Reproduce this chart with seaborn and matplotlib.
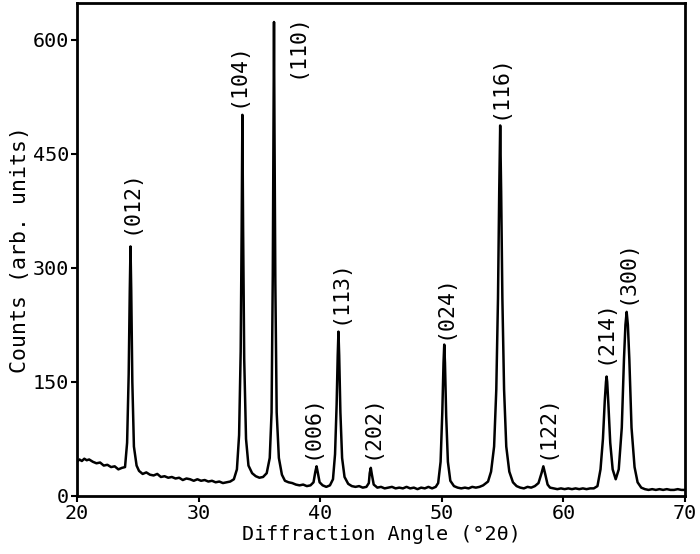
import matplotlib
matplotlib.use("Agg")
import matplotlib.pyplot as plt
import seaborn as sns
import pandas as pd

# ---- data (2-theta in degrees, counts in arb. units) ----
two_theta = [
    20.0, 20.2, 20.4, 20.6, 20.8, 21.0, 21.3, 21.6, 21.9, 22.2, 22.5, 22.8, 23.1, 23.4, 23.7, 23.95,
    24.12, 24.25, 24.34, 24.4, 24.46, 24.55, 24.68, 24.9,
    25.1, 25.4, 25.7, 26.0, 26.3, 26.6, 26.9, 27.2, 27.5, 27.8, 28.1, 28.4, 28.7, 29.0, 29.3, 29.6,
    29.9, 30.2, 30.5, 30.8, 31.1, 31.4, 31.7, 32.0, 32.3, 32.6, 32.9,
    33.15, 33.33, 33.46, 33.54, 33.6, 33.66, 33.75, 33.9, 34.1,
    34.4, 34.7, 35.0, 35.3, 35.6, 35.85,
    36.0, 36.1, 36.16, 36.2, 36.24, 36.31, 36.42, 36.6, 36.85,
    37.1, 37.4, 37.7, 38.0, 38.3, 38.6, 38.9, 39.2, 39.45,
    39.6, 39.7, 39.8, 39.95,
    40.2, 40.5, 40.8, 41.05,
    41.22, 41.35, 41.44, 41.5, 41.56, 41.66, 41.8, 42.0,
    42.3, 42.6, 42.9, 43.2, 43.5, 43.8, 44.0,
    44.07, 44.16, 44.24, 44.4,
    44.7, 45.0, 45.3, 45.6, 45.9, 46.2, 46.5, 46.8, 47.1, 47.4, 47.7, 48.0, 48.3, 48.6, 48.9, 49.2, 49.5, 49.7,
    49.9, 50.04, 50.14, 50.2, 50.26, 50.36, 50.5, 50.7,
    51.0, 51.3, 51.6, 51.9, 52.2, 52.5, 52.8, 53.1, 53.4, 53.8,
    54.05, 54.3, 54.48, 54.62, 54.72, 54.8, 54.88, 54.98, 55.12, 55.3, 55.55,
    55.85, 56.15, 56.45, 56.75, 57.05, 57.35, 57.65, 57.95,
    58.2, 58.35, 58.5, 58.7,
    58.9, 59.2, 59.5, 59.8, 60.1, 60.4, 60.7, 61.0, 61.3, 61.6, 61.9, 62.2, 62.5, 62.8,
    63.05, 63.25, 63.4, 63.5, 63.55, 63.6, 63.7, 63.85, 64.05, 64.3, 64.55, 64.8, 64.98, 65.1,
    65.2, 65.3, 65.42, 65.6, 65.85, 66.1,
    66.4, 66.7, 67.0, 67.3, 67.6, 67.9, 68.2, 68.5, 68.8, 69.1, 69.4, 69.7, 70.0,
]
counts = [
    45, 48, 46, 49, 47, 48, 45, 43, 44, 40, 41, 38, 39, 35, 37, 38,
    70, 160, 270, 328, 270, 150, 65, 40,
    33, 29, 31, 28, 27, 29, 25, 26, 24, 25, 23, 24, 21, 23, 22, 20,
    22, 20, 21, 19, 20, 18, 19, 17, 18, 19, 22,
    35, 80, 190, 350, 501, 350, 180, 75, 40,
    30, 26, 24, 25, 30, 50,
    110, 290, 480, 623, 480, 280, 110, 50, 28,
    20, 18, 17, 15, 14, 15, 13, 14, 18,
    32, 39, 31, 18,
    14, 12, 14, 22,
    55, 120, 185, 216, 185, 110, 50, 25,
    16, 13, 12, 13, 11, 12, 17,
    30, 37, 29, 15,
    11, 12, 10, 11, 12, 10, 11, 10, 12, 10, 11, 9, 11, 10, 12, 10, 12, 17,
    45, 110, 175, 199, 175, 105, 45, 20,
    13, 11, 10, 11, 10, 12, 11, 12, 14, 19,
    32, 65, 140, 260, 400, 487, 400, 260, 140, 65, 32,
    18, 13, 11, 10, 12, 11, 13, 17,
    30, 39, 29, 15,
    11, 10, 9, 10, 9, 10, 9, 10, 9, 10, 9, 10, 10, 13,
    35, 75, 125, 150, 157, 150, 120, 70, 35, 22, 35, 90, 180, 225,
    242, 225, 180, 90, 38, 18,
    11, 9, 8, 9, 8, 9, 8, 9, 8, 8, 9, 8, 8,
]
assert len(two_theta) == len(counts)

# peak labels: text, label x (2θ), label bottom (counts)
peak_labels = ["(012)", "(104)", "(110)", "(006)", "(113)", "(202)",
               "(024)", "(116)", "(122)", "(214)", "(300)"]
label_x = [24.44, 33.2, 38.05, 39.3, 41.55, 44.18, 50.2, 54.75, 58.57, 63.4, 65.15]
label_y = [344, 511, 550, 49, 226, 49, 206, 495, 49, 173, 252]

x_ticks = [20, 30, 40, 50, 60, 70]
y_ticks = [0, 150, 300, 450, 600]

# ---- plotting ----
sns.set_theme(style="ticks")
plt.rcParams["font.family"] = ["DejaVu Sans Mono", "DejaVu Sans"]
FS = 14.5
TXT = "black"

df = pd.DataFrame({"two_theta": two_theta, "counts": counts})

fig = plt.figure(figsize=(7.0, 5.54), dpi=100)
ax = fig.add_axes([0.11, 0.1047, 0.8686, 0.8899])

sns.lineplot(data=df, x="two_theta", y="counts", ax=ax, color="black",
             linewidth=1.8, sort=False, estimator=None)

for t, lx, ly in zip(peak_labels, label_x, label_y):
    ax.text(lx, ly, t, rotation=90, ha="center", va="bottom", fontsize=FS + 1,
            color=TXT)

ax.set_xlim(20, 70)
ax.set_ylim(0, 648)
ax.set_xticks(x_ticks)
ax.set_yticks(y_ticks)
ax.set_xticklabels([str(v) for v in x_ticks], fontsize=FS, color=TXT)
ax.set_yticklabels([str(v) for v in y_ticks], fontsize=FS, color=TXT)
ax.set_xlabel("Diffraction Angle (°2θ)", fontsize=FS, color=TXT, labelpad=2)
ax.set_ylabel("Counts (arb. units)", fontsize=FS + 1, color=TXT, labelpad=2)

ax.tick_params(direction="out", length=4, width=1.5, pad=1.5, colors="black")
for s in ax.spines.values():
    s.set_visible(True)
    s.set_linewidth(2.0)
    s.set_color("black")

fig.savefig("out.png", dpi=100)
